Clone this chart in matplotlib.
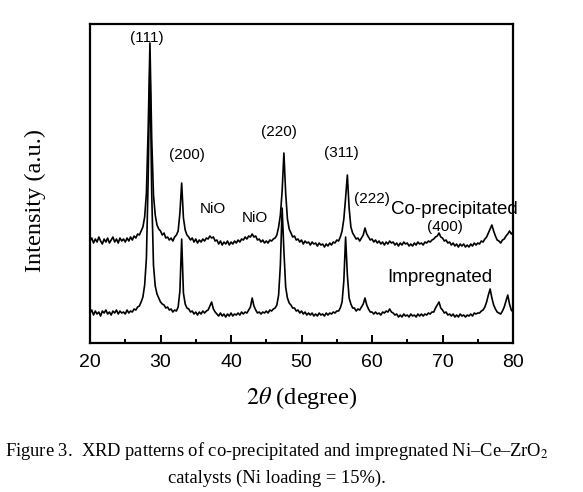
import matplotlib
matplotlib.use("Agg")
import matplotlib.pyplot as plt
import numpy as np
from matplotlib.ticker import MultipleLocator

# 2-theta sampling grid, 0.25 degree steps from 20 to 80
two_theta = np.arange(20.0, 80.001, 0.25)

# intensities (a.u.), one value per grid point
co_precipitated = [
    102, 105, 100, 104, 101, 106, 102, 99, 104, 101, 105, 100, 103, 106, 101, 104, 100, 105, 102, 104,
    101, 105, 102, 106, 103, 107, 105, 109, 108, 112, 116, 126, 150, 215, 300, 205, 148, 128, 118, 114,
    112, 108, 110, 105, 106, 103, 105, 102, 106, 108, 112, 130, 160, 125, 113, 108, 106, 103, 105, 101,
    104, 100, 103, 101, 104, 102, 105, 104, 107, 105, 106, 102, 103, 99, 102, 98, 101, 99, 102, 98,
    101, 99, 102, 100, 103, 101, 104, 103, 106, 104, 107, 106, 109, 106, 107, 103, 104, 101, 103, 100,
    102, 100, 103, 102, 104, 105, 108, 116, 128, 152, 190, 150, 124, 114, 110, 106, 107, 103, 104, 101,
    103, 99, 102, 100, 101, 98, 101, 99, 100, 97, 100, 98, 99, 96, 99, 97, 100, 98, 101, 100,
    103, 102, 106, 112, 124, 145, 168, 135, 116, 110, 107, 104, 105, 102, 105, 108, 115, 109, 106, 103,
    104, 101, 103, 100, 102, 99, 101, 98, 101, 99, 102, 100, 101, 98, 100, 97, 100, 98, 101, 99,
    100, 97, 99, 97, 100, 98, 101, 99, 100, 98, 101, 100, 102, 101, 103, 104, 106, 107, 110, 106,
    105, 102, 103, 100, 101, 98, 100, 97, 99, 96, 99, 97, 99, 96, 98, 96, 99, 97, 100, 98,
    100, 99, 102, 101, 104, 106, 110, 114, 118, 112, 107, 103, 102, 100, 103, 104, 107, 109, 112, 109,
    111,
]

impregnated = [
    30, 33, 28, 32, 29, 31, 27, 32, 30, 33, 29, 31, 28, 32, 30, 33, 29, 32, 30, 31,
    29, 33, 30, 32, 31, 34, 33, 36, 37, 41, 46, 58, 85, 165, 282, 150, 78, 57, 49, 45,
    41, 39, 38, 35, 36, 33, 34, 31, 33, 32, 36, 52, 104, 50, 39, 35, 34, 31, 32, 29,
    31, 28, 31, 29, 32, 30, 32, 33, 37, 41, 34, 31, 29, 27, 30, 27, 29, 26, 29, 27,
    30, 27, 29, 28, 30, 28, 31, 29, 31, 30, 33, 36, 45, 37, 33, 30, 31, 29, 31, 30,
    32, 30, 33, 32, 34, 35, 38, 48, 78, 135, 92, 56, 45, 40, 38, 35, 35, 32, 33, 30,
    32, 29, 31, 28, 30, 28, 30, 27, 29, 27, 30, 28, 29, 27, 30, 28, 30, 29, 31, 30,
    32, 32, 35, 41, 62, 106, 68, 45, 39, 35, 35, 32, 34, 33, 36, 39, 45, 38, 34, 31,
    31, 29, 31, 29, 30, 28, 31, 30, 32, 31, 34, 31, 30, 28, 29, 26, 28, 26, 29, 27,
    28, 26, 29, 27, 28, 26, 29, 27, 29, 27, 29, 28, 30, 29, 31, 31, 35, 38, 41, 35,
    33, 30, 31, 28, 29, 27, 29, 26, 28, 26, 29, 27, 28, 26, 28, 27, 29, 27, 30, 29,
    30, 30, 32, 33, 36, 41, 48, 54, 45, 38, 34, 31, 30, 29, 32, 36, 42, 48, 39, 33,
    31,
]

# reflection labels: (text, 2theta, intensity)
peak_labels = [
    ("(111)", 28.0, 305),
    ("(200)", 33.7, 188),
    ("NiO", 37.4, 134),
    ("NiO", 43.35, 125),
    ("(220)", 46.85, 211),
    ("(311)", 55.6, 190),
    ("(222)", 60.0, 144),
    ("(400)", 70.35, 116),
]
series_labels = [("Co-precipitated", 62.7, 134), ("Impregnated", 62.1, 66)]

plt.rcParams["mathtext.fontset"] = "stix"
SANS = "Liberation Sans"
SERIF = "Liberation Serif"

fig = plt.figure(figsize=(5.83, 4.92), dpi=100)
ax = fig.add_axes([0.1544, 0.3028, 0.7256, 0.6484])

ax.plot(two_theta, co_precipitated, color="black", linewidth=1.2)
ax.plot(two_theta, impregnated, color="black", linewidth=1.2)

for text, x, y in peak_labels:
    ax.text(x, y, text, ha="center", va="center", fontsize=11, family=SANS)
for text, x, y in series_labels:
    ax.text(x, y, text, ha="left", va="center", fontsize=13.5, family=SANS)

ax.set_xlim(20, 80)
ax.set_ylim(0, 319)
ax.xaxis.set_major_locator(MultipleLocator(10))
ax.xaxis.set_minor_locator(MultipleLocator(5))
ax.tick_params(axis="x", which="major", direction="in", length=5.5, width=1.4, pad=8, labelsize=14)
ax.tick_params(axis="x", which="minor", direction="in", length=3, width=1.4)
ax.tick_params(axis="y", left=False, labelleft=False)
for label in ax.get_xticklabels():
    label.set_family(SANS)
for spine in ax.spines.values():
    spine.set_linewidth(1.6)

ax.set_xlabel(r"$2\theta$ (degree)", fontsize=17.5, family=SERIF, labelpad=10)
fig.text(35 / 583, 1 - 200 / 492, "Intensity (a.u.)", rotation=90, ha="center", va="center",
         fontsize=17.5, family=SERIF)

fig.text(277 / 583, 1 - 451 / 492,
         r"Figure 3.  XRD patterns of co-precipitated and impregnated Ni–Ce–ZrO$_2$",
         ha="center", va="center", fontsize=13.3, family=SERIF)
fig.text(277 / 583, 1 - 478 / 492, "catalysts (Ni loading = 15%).",
         ha="center", va="center", fontsize=13.3, family=SERIF)

fig.savefig("out.png", dpi=100)
